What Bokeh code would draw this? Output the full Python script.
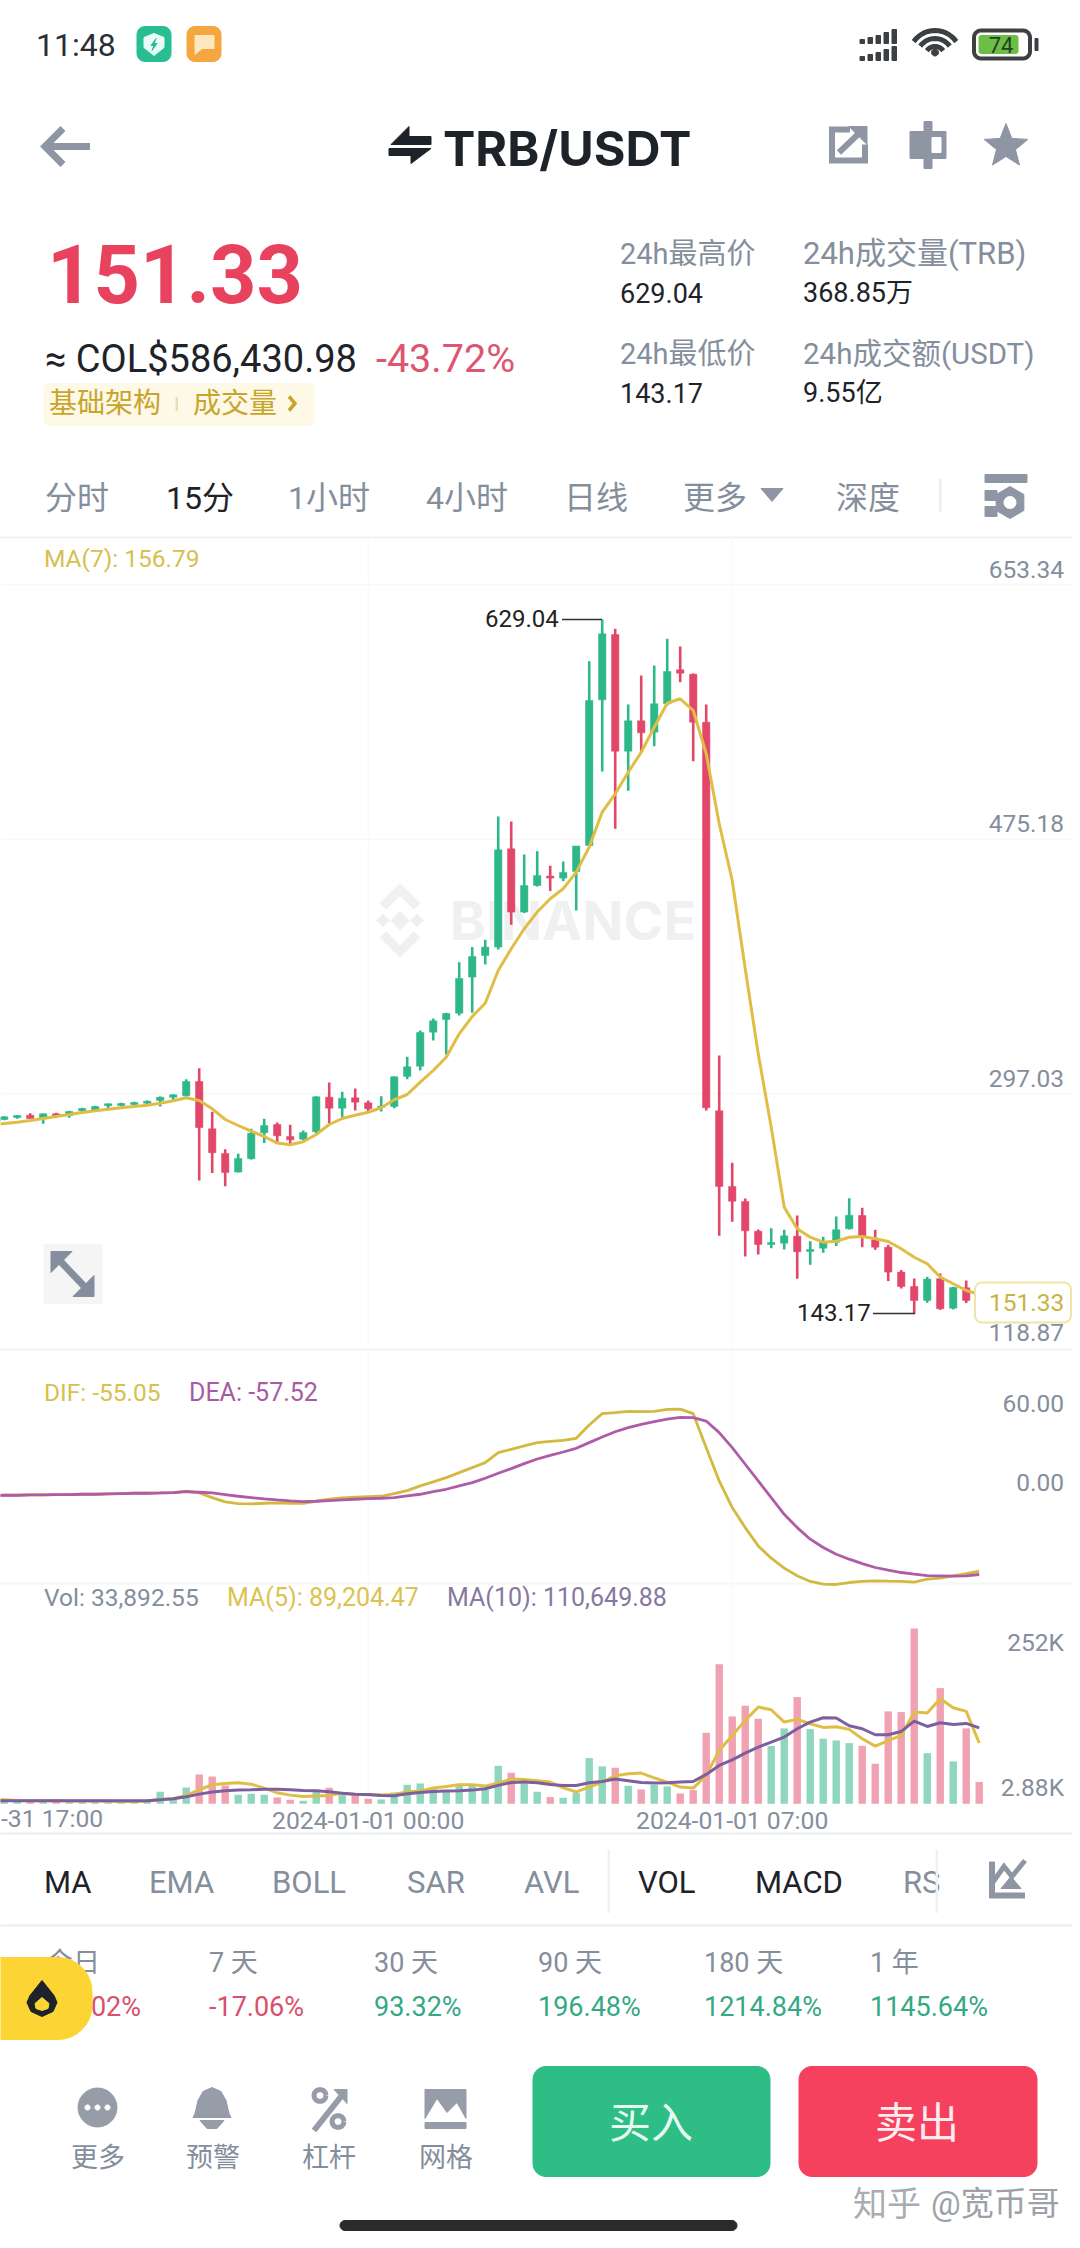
import math
from bokeh.plotting import figure
from bokeh.models import Range1d, LinearAxis, FixedTicker, NumeralTickFormatter, Grid, ColumnDataSource
from bokeh.core.properties import value
from bokeh.embed import file_html
from bokeh.resources import INLINE

candle_index = list(range(-1, 76))
opens = [278.0,279.1,280.5,282.1,280.0,283.1,281.9,285.2,285.4,288.7,288.9,289.6,290.5,292.4,294.7,295.7,305.7,272.6,255.3,242.3,251.6,
         269.8,275.6,267.2,265.3,270.5,294.7,287.0,294.3,290.8,287.7,288.2,309.2,316.4,340.2,349.1,353.5,378.8,393.9,399.8,468.6,
         424.3,442.9,449.5,448.1,452.7,470.9,572.9,618.6,536.9,558.2,550.2,570.1,593.9,590.8,557.2,285.2,232.2,221.7,200.9,191.6,
         192.5,197.4,186.7,189.0,193.2,202.6,211.9,194.9,189.7,172.3,162.2,152.4,167.6,147.0,161.3,152.4]
highs = [279.5,281.4,282.1,283.5,283.3,283.8,285.2,287.3,288.7,290.3,290.8,291.5,292.4,295.2,296.8,307.3,315.0,284.5,258.3,255.1,272.6,
         279.6,277.0,275.4,271.4,295.4,305.0,298.5,300.8,292.4,295.4,309.4,323.0,341.4,349.8,353.8,389.2,399.8,404.9,491.2,487.7,
         464.6,467.0,456.7,459.7,470.5,599.9,629.04,622.6,569.6,589.9,596.9,615.6,610.2,591.3,569.6,323.9,248.8,223.8,202.1,203.0,
         201.9,211.9,193.9,197.0,211.2,224.0,217.3,201.9,191.4,173.7,167.8,169.0,171.3,162.0,166.4,153.5]
lows = [277.5,278.6,279.6,279.8,276.1,281.0,280.3,283.8,285.0,285.9,288.4,289.1,288.9,288.2,292.2,295.2,236.4,241.6,232.4,242.0,251.1,
        262.6,262.8,261.6,264.6,268.8,276.5,280.5,285.4,284.5,284.7,287.0,307.3,313.4,334.4,324.6,351.9,353.8,387.6,398.1,415.4,
        423.6,442.2,439.0,445.9,425.4,470.5,522.7,482.6,509.2,536.3,540.4,568.9,585.2,529.9,285.4,197.7,207.5,183.2,184.6,189.0,
        188.1,167.6,177.4,185.8,190.5,202.1,189.7,187.9,166.0,160.8,143.17,150.8,145.9,146.1,150.6,150.5]
closes = [279.0,281.0,281.9,279.8,283.1,281.2,284.7,286.8,288.2,290.1,290.3,291.0,291.9,294.7,296.4,305.7,273.5,255.8,242.0,251.8,269.5,
          274.9,267.7,264.9,270.0,295.0,287.0,294.0,291.2,286.6,288.4,309.0,316.0,340.0,348.2,353.3,377.8,393.2,399.8,467.9,424.3,
          442.9,449.9,448.1,452.0,470.5,572.4,619.1,536.9,558.2,549.8,570.1,592.7,591.5,557.2,287.3,232.2,221.9,201.2,191.6,193.0,
          197.7,186.5,188.1,193.2,201.9,212.1,196.8,189.7,172.3,162.2,152.4,167.4,146.6,161.5,152.4,151.33]
ma7 = [275.2,276.3,277.2,278.4,279.8,281.2,282.6,284.0,285.2,286.3,287.3,288.2,289.1,290.5,292.2,294.3,292.4,286.6,279.1,274.9,270.9,
       267.2,262.6,261.4,263.5,268.6,275.6,279.8,282.1,284.2,287.3,292.9,296.6,305.2,313.4,322.7,339.1,351.2,360.5,383.4,398.6,
       412.6,424.3,433.6,440.6,452.3,469.8,494.3,507.1,522.2,536.2,553.7,570.5,573.6,565.4,535.1,486.1,446.4,384.6,325.1,273.7,
       217.7,202.6,196.7,193.2,193.9,196.7,197.2,195.6,193.7,188.6,182.7,178.1,168.8,164.1,159.4,156.79]
dif = [2.6,2.65,2.65,2.9,2.9,3.16,3.16,3.41,3.41,3.67,3.92,4.17,4.17,4.42,4.68,5.69,4.42,0.88,-2.4,-3.67,-3.92,
       -3.41,-3.16,-3.41,-3.41,-1.9,-0.38,0.63,1.14,1.64,1.9,3.92,6.19,9.73,12.77,16.05,19.84,23.64,27.43,35.01,37.54,
       40.07,42.6,43.6,44.4,45.9,56.0,64.6,65.35,66.4,66.1,66.4,67.9,68.1,64.6,38.8,13.5,-6.7,-21.9,-35.8,-45.1,
       -52.7,-58.5,-62.8,-64.8,-65.1,-63.6,-62.8,-62.3,-62.6,-62.8,-63.3,-61.1,-60.3,-58.5,-56.8,-55.05]
dea = [2.6,2.65,2.65,2.9,2.9,3.16,3.16,3.41,3.41,3.67,3.92,4.17,4.17,4.42,4.68,5.43,4.93,4.42,3.16,1.9,0.88,
       -0.13,-0.89,-1.64,-2.15,-1.9,-1.39,-0.89,-0.38,0.13,0.38,0.88,2.15,3.41,5.43,7.2,9.73,12.26,15.55,19.34,22.88,
       26.67,30.2,33.0,35.5,38.3,42.6,46.9,50.9,54.0,56.5,58.5,60.5,61.8,61.6,59.0,50.2,38.8,26.2,13.5,0.88,
       -11.8,-21.9,-30.7,-37.0,-42.1,-45.9,-49.2,-52.2,-54.2,-56.0,-57.3,-58.3,-58.5,-58.8,-58.5,-57.52]
volume_k = [7.2,7.2,7.2,7.6,7.6,6.7,7.2,6.7,6.7,6.7,6.7,6.7,7.2,19.9,9.0,26.1,44.6,41.7,29.0,15.7,17.1,
            15.7,11.9,8.6,7.2,19.5,25.6,15.2,15.7,10.0,9.0,19.0,29.9,31.8,23.7,19.5,31.3,30.4,22.8,56.9,47.0,
            31.3,19.9,12.4,11.4,18.5,67.8,56.0,54.1,28.5,23.3,29.9,27.5,17.6,22.3,103.8,201.0,127.0,142.2,123.7,84.9,
            110.0,154.5,109.0,95.3,92.9,89.1,85.3,59.8,134.2,133.2,252.0,74.9,167.3,63.1,110.0,33.89]
vol_ma5 = [9.0,8.6,7.6,7.1,7.1,7.6,6.7,6.7,6.7,6.7,6.2,6.2,6.7,9.0,10.0,14.7,22.8,29.9,31.8,32.7,30.8,
           25.2,18.5,15.2,13.3,13.8,14.7,18.0,16.2,15.7,15.2,16.2,19.9,20.9,25.2,27.5,29.9,29.9,28.0,32.3,38.0,
           37.5,35.6,33.7,25.6,19.9,26.6,33.7,42.7,45.5,46.5,39.8,33.7,26.6,25.2,43.2,78.7,100.0,121.4,140.3,136.5,
           119.0,122.8,116.6,111.4,112.3,108.6,95.3,84.9,92.5,100.0,133.2,131.8,152.2,139.4,134.2,89.2]
vol_ma10 = [7.1,7.1,7.1,7.1,7.1,7.1,7.1,7.1,7.1,7.1,7.1,7.1,7.1,8.6,10.0,12.8,16.6,19.5,21.4,22.3,22.8,
            23.7,23.7,22.8,21.8,21.4,19.9,18.0,16.6,16.2,14.7,14.3,17.1,19.0,20.4,20.9,21.4,22.3,24.2,29.0,33.2,
            33.7,32.7,30.4,29.0,29.0,32.7,34.6,38.0,35.6,33.2,32.3,32.7,33.7,34.6,44.6,57.4,65.4,74.9,83.4,90.6,
            97.7,109.5,119.0,125.1,124.7,113.8,109.5,101.0,101.0,105.7,120.4,112.8,118.0,115.7,117.1,110.65]
price_ticks = [118.87, 297.03, 475.18, 653.34]
macd_ticks = [0.0, 60.0]
date_ticks = {28: "2024-01-01 00:00", 56: "2024-01-01 07:00"}
first_date_label = "-31 17:00"
vol_low_tick, vol_high_tick = 2.88, 252.0

LAT = "Roboto, 'Noto Sans CJK SC'"
GRAY, DARK = "#848E9C", "#1E2329"
GREEN, RED = "#2EB88A", "#E2476A"
PGREEN, PRED = "#8FD6BE", "#F0A2B3"
YEL, PUR = "#DDBE42", "#AE5CA8"
ICON = "#8E96A3"

p = figure(width=1072, height=2240, x_range=Range1d(-0.285, 82.175), y_range=Range1d(2240, 0),
           x_axis_type=None, y_axis_type=None, toolbar_location=None, output_backend="svg",
           min_border=0, outline_line_color=None, background_fill_color="white")
p.grid.visible = False
p.extra_x_ranges["ux"] = Range1d(1.5, 1073.5)
p.extra_y_ranges["uy"] = Range1d(2240, 0)
p.extra_y_ranges["price"] = Range1d(-505.6, 1062.4)
p.extra_y_ranges["price_lbl"] = Range1d(-516.45, 1051.55)
p.extra_y_ranges["macd"] = Range1d(-563.2, 1137.6)
p.extra_y_ranges["macd_lbl"] = Range1d(-575.8, 1125.1)
p.extra_y_ranges["vol"] = Range1d(-617.7, 2565.4)
p.extra_y_ranges["vol_lo"] = Range1d(-640.4, 2542.6)
p.extra_y_ranges["vol_hi"] = Range1d(-597.8, 2585.3)
U = dict(x_range_name="ux", y_range_name="uy")


def T(x, y, s, size, color, align="left", bold=False, font=LAT):
    p.text(x=[x], y=[y], text=[s], text_font=value(font), text_font_size=f"{size}px", text_color=color,
           text_align=align, text_baseline="middle", text_font_style="bold" if bold else "normal", **U)


def rrect(x0, y0, x1, y1, r):
    xs, ys = [], []
    for cx, cy, a0 in [(x1 - r, y0 + r, -90), (x1 - r, y1 - r, 0), (x0 + r, y1 - r, 90), (x0 + r, y0 + r, 180)]:
        for k in range(9):
            a = math.radians(a0 + k * 90 / 8)
            xs.append(cx + r * math.cos(a)); ys.append(cy + r * math.sin(a))
    return xs, ys


def fill(xs, ys, color, line=None, lw=1):
    p.patch(xs, ys, fill_color=color, line_color=line or color, line_width=lw, **U)


def box(x0, y0, x1, y1, color, r=0, line=None, lw=1):
    if r:
        fill(*rrect(x0, y0, x1, y1, r), color, line, lw)
    else:
        p.quad(left=[x0], right=[x1], top=[y0], bottom=[y1], fill_color=color, line_color=line or color, line_width=lw, **U)


def L(xs, ys, color, w, cap="butt"):
    p.line(xs, ys, line_color=color, line_width=w, line_cap=cap, line_join="miter", **U)


def circle(cx, cy, r, color):
    a = [math.radians(k * 12) for k in range(30)]
    fill([cx + r * math.cos(t) for t in a], [cy + r * math.sin(t) for t in a], color)


def arc(cx, cy, r, a0, a1, color, w):
    n = 14
    ang = [math.radians(a0 + (a1 - a0) * k / n) for k in range(n + 1)]
    L([cx + r * math.cos(t) for t in ang], [cy + r * math.sin(t) for t in ang], color, w)


# ---------- status bar ----------
T(37, 44, "11:48", 32, "#2B2F36")
box(138, 26, 172, 61, "#27BE94", r=8)
fill([155, 165, 165, 155, 145, 145], [33, 37, 47, 55, 47, 37], "#E8FBF4")
fill([157, 152, 155, 153, 158, 155], [38, 45, 45, 50, 43, 43], "#27BE94")
box(188, 26, 222, 61, "#F5A63E", r=8)
fill([196, 215, 215, 203, 196], [35, 35, 48, 48, 54], "#FDE7BE")
for k, h in enumerate([4, 6, 8, 11, 14]):
    bx = 861 + k * 8
    box(bx, 43 - h, bx + 4.5, 43, "#3C4043")
    box(bx, 60 - h, bx + 4.5, 60, "#3C4043")
for r_, w_ in ((26, 5), (18, 5), (10, 5)):
    arc(936, 56, r_, 215, 325, "#3C4043", w_)
circle(936, 52, 3.5, "#3C4043")
box(975, 30, 1031, 58, "white", r=7, line="#3C4043", lw=4)
box(980, 35, 1019, 53, "#6DBE45", r=2)
T(1002, 44, "74", 22, "#23402A", "center")
box(1036, 38, 1039, 50, "#3C4043")

# ---------- title row ----------
L([91, 47], [146, 146], ICON, 7)
L([64, 46, 64], [128, 146, 164], ICON, 7)
fill([392, 410, 410, 432, 432], [144, 126, 136, 136, 144], DARK)
fill([390, 432, 412, 412, 390], [148, 148, 163, 155, 155], DARK)
T(444, 148, "TRB/USDT", 48.5, DARK, bold=True, font="Inter")
L([851, 833, 833, 866, 866], [129, 129, 160, 160, 144], ICON, 6)
L([840, 863], [152, 130], ICON, 6)
fill([850, 868, 868], [126, 126, 144], ICON)
box(911, 131, 947, 158, ICON)
box(925, 121, 933, 168, ICON)
box(933, 137, 942, 152, "white")
star = [(1007 + (23 if k % 2 == 0 else 10) * math.cos(math.radians(-90 + 36 * k)),
         146 + (23 if k % 2 == 0 else 10) * math.sin(math.radians(-90 + 36 * k))) for k in range(10)]
fill([s[0] for s in star], [s[1] for s in star], ICON)

# ---------- price summary ----------
T(48, 273, "151.33", 81, "#E8425F", bold=True)
T(46, 358, "≈ COL$586,430.98", 38, DARK)
T(377, 358, "-43.72%", 39.5, "#DD5570")
box(45, 383, 315, 425, "#FEF8E7", r=5)
T(50, 403, "基础架构", 28, "#C7A52B")
box(177, 397, 178.5, 410, "#E8DFB5")
T(194, 403, "成交量", 28, "#C7A52B")
L([290, 296, 290], [396, 403, 410], "#C7A52B", 3.5)
T(621, 253, "24h最高价", 29, GRAY)
T(621, 292, "629.04", 27, DARK)
T(621, 353, "24h最低价", 29, GRAY)
T(621, 392, "143.17", 27, DARK)
T(804, 253, "24h成交量(TRB)", 31, GRAY)
T(804, 292, "368.85万", 27, DARK)
T(804, 353, "24h成交额(USDT)", 29.5, GRAY)
T(804, 392, "9.55亿", 27, DARK)

# ---------- interval tabs ----------
for x0, s, col in [(46, "分时", GRAY), (167, "15分", DARK), (289, "1小时", GRAY), (427, "4小时", GRAY),
                   (565, "日线", GRAY), (684, "更多", GRAY), (837, "深度", GRAY)]:
    T(x0, 497, s, 32, col)
fill([762, 784, 773], [488, 488, 501], ICON)
box(940.5, 479, 942, 511, "#ECEDEF")
box(986, 474, 1028, 482, ICON)
box(986, 490, 998, 500, ICON)
box(986, 506, 998, 516, ICON)
hexa = [(1011 + 16 * math.cos(math.radians(30 + 60 * k)), 502 + 16 * math.sin(math.radians(30 + 60 * k))) for k in range(6)]
fill([h[0] for h in hexa], [h[1] for h in hexa], ICON)
circle(1011, 502, 6, "white")

# ---------- panel rules ----------
for yy, col, w_ in [(537, "#F1F2F3", 2), (1349, "#F1F2F3", 2), (1583, "#F6F6F7", 2), (1833, "#ECEDEF", 2), (1925, "#ECEDEF", 2)]:
    L([0, 1080], [yy, yy], col, w_)

# ---------- watermark ----------
WM = "#EEF0F2"
for cx, cy, r_ in [(401, 920, 9), (384, 920, 6.5), (418, 920, 6.5)]:
    fill([cx, cx + r_, cx, cx - r_], [cy - r_, cy, cy + r_, cy], WM)
L([384, 401, 418], [906, 889, 906], WM, 9)
L([384, 401, 418], [934, 951, 934], WM, 9)
T(451, 920, "BINANCE", 54, WM, bold=True, font="Inter")

# ---------- grid ----------
p.add_layout(Grid(dimension=1, ticker=FixedTicker(ticks=price_ticks[1:]), y_range_name="price",
                  grid_line_color="#F7F8F8", grid_line_width=1.5))
date_x = list(date_ticks.keys())
p.segment(x0=date_x, x1=date_x, y0=[537] * 2, y1=[1833] * 2, line_color="#F8F9F9", line_width=1.5, y_range_name="uy")

# ---------- data marks ----------
up = [c >= o for o, c in zip(opens, closes)]
cds = ColumnDataSource(dict(
    x=candle_index, o=opens, h=highs, l=lows, c=closes,
    top=[max(o, c) for o, c in zip(opens, closes)], bot=[min(o, c) for o, c in zip(opens, closes)],
    color=[GREEN if u else RED for u in up], vcolor=[PGREEN if u else PRED for u in up],
    vol=volume_k, vbase=[vol_low_tick] * len(candle_index)))
p.vbar(x="x", width=0.57, top="vol", bottom="vbase", fill_color="vcolor", line_color=None, source=cds, y_range_name="vol")
p.line(candle_index, vol_ma5, line_color="#E0BE45", line_width=3, y_range_name="vol")
p.line(candle_index, vol_ma10, line_color="#7D5F9F", line_width=3, y_range_name="vol")
p.line(candle_index, dif, line_color="#D3B93F", line_width=2.8, y_range_name="macd")
p.line(candle_index, dea, line_color=PUR, line_width=2.8, y_range_name="macd")
p.segment(x0="x", x1="x", y0="l", y1="h", line_color="color", line_width=2.6, source=cds, y_range_name="price")
p.vbar(x="x", width=0.57, top="top", bottom="bot", fill_color="color", line_color="color", line_width=0.5, source=cds, y_range_name="price")
p.line(candle_index, ma7, line_color="#E0BE45", line_width=3, y_range_name="price")

# ---------- real axes, placed inside the frame ----------
def yaxis(rng, ticks, formatter=None, overrides=None):
    ax = LinearAxis(y_range_name=rng, x_range_name="ux", fixed_location=1065, ticker=FixedTicker(ticks=ticks),
                    major_label_standoff=0, major_tick_in=0, major_tick_out=0, axis_line_color=None,
                    major_tick_line_color=None, minor_tick_line_color=None,
                    major_label_text_font_size="24.5px", major_label_text_color=GRAY, major_label_text_font="Roboto")
    if formatter:
        ax.formatter = formatter
    if overrides:
        ax.major_label_overrides = overrides
    p.add_layout(ax, "left")


yaxis("price_lbl", price_ticks, NumeralTickFormatter(format="0.00"))
yaxis("macd_lbl", macd_ticks, NumeralTickFormatter(format="0.00"))
yaxis("vol_lo", [vol_low_tick], overrides={vol_low_tick: "2.88K"})
yaxis("vol_hi", [vol_high_tick], overrides={vol_high_tick: "252K"})
xax = LinearAxis(y_range_name="uy", fixed_location=1805, ticker=FixedTicker(ticks=date_x),
                 major_label_overrides=date_ticks, major_label_standoff=0, major_tick_in=0, major_tick_out=0,
                 axis_line_color=None, major_tick_line_color=None, minor_tick_line_color=None,
                 major_label_text_font_size="24.7px", major_label_text_color=GRAY, major_label_text_font="Roboto")
p.add_layout(xax, "below")
T(2, 1818, first_date_label, 24.7, GRAY, font="Roboto")

# ---------- chart texts ----------
T(45, 558, "MA(7): 156.79", 24.5, "#D6C04F")
T(45, 1392, "DIF: -55.05", 24.5, "#D6C04F")
T(190, 1392, "DEA: -57.52", 25, "#A85BA2")
T(45, 1597, "Vol: 33,892.55", 24.5, GRAY)
T(228, 1597, "MA(5): 89,204.47", 25, "#DCC24E")
T(448, 1597, "MA(10): 110,649.88", 25, "#86789F")
T(486, 618, "629.04", 24, "#222222")
L([563, 603], [619, 619], "#333333", 1.6)
T(798, 1312, "143.17", 24, "#222222")
L([874, 916], [1313, 1313], "#333333", 1.6)
box(976, 1282, 1072, 1322, "white", r=7, line="#EFE5A8", lw=2)
T(990, 1302, "151.33", 24.5, "#C9B43F")
box(45, 1244, 103, 1303, "#F5F5F6")
L([54, 92], [1253, 1293], GRAY, 7)
fill([52, 73, 52], [1251, 1251, 1272], GRAY)
fill([95, 95, 74], [1296, 1275, 1296], GRAY)

# ---------- indicator tabs ----------
for x0, s, col in [(45, "MA", DARK), (150, "EMA", GRAY), (273, "BOLL", GRAY), (408, "SAR", GRAY), (525, "AVL", GRAY),
                   (639, "VOL", DARK), (756, "MACD", DARK), (904, "RS", GRAY)]:
    T(x0, 1882, s, 31, col)
box(609, 1850, 610.5, 1912, "#EFF0F1")
box(937, 1850, 938.5, 1912, "#EFF0F1")
L([993, 993, 1026], [1861, 1895, 1895], ICON, 6)
L([993, 1005, 1013, 1026], [1883, 1866, 1876, 1860], ICON, 5)
fill([1002, 1022, 1012], [1888, 1888, 1876], ICON)

# ---------- change row ----------
for x0, a, b, col in [(47, "今日", "-43.02%", "#D9506C"), (210, "7 天", "-17.06%", "#D9506C"), (375, "30 天", "93.32%", "#35A884"),
                      (539, "90 天", "196.48%", "#35A884"), (705, "180 天", "1214.84%", "#35A884"), (871, "1 年", "1145.64%", "#35A884")]:
    T(x0, 1962, a, 27, GRAY)
    T(x0, 2006, b, 27, col)
fill(*rrect(-40, 1957, 93, 2039, 34), "#FCD535")
fill([43, 55, 58, 54, 43, 32, 28, 31], [1980, 1995, 2002, 2011, 2016, 2011, 2002, 1995], "#1E2329")
fill([43, 50, 49, 43, 37, 36], [1997, 2003, 2008, 2010, 2008, 2003], "#FCD535")

# ---------- bottom bar ----------
BI = "#969DA9"
circle(98.5, 2107, 19.5, BI)
for dx in (-10, 0, 10):
    circle(98.5 + dx, 2107, 2.6, "white")
fill([213, 222, 227, 230, 232, 194, 196, 199, 204], [2087, 2091, 2100, 2113, 2117, 2117, 2113, 2100, 2091], BI)
fill([201, 225, 218, 208], [2120, 2120, 2128, 2128], BI)
arc(321, 2095, 6, 0, 360, BI, 5)
arc(339, 2121, 6, 0, 360, BI, 5)
L([315, 346], [2130, 2091], BI, 6)
fill([335, 348, 348], [2089, 2089, 2103], BI)
fill([426, 467, 467, 458, 448, 438, 426], [2089, 2089, 2118, 2102, 2112, 2098, 2118], BI)
box(426, 2122, 467, 2128, BI)
for x0, s in [(72, "更多"), (187, "预警"), (303, "杠杆"), (420, "网格")]:
    T(x0, 2157, s, 27, GRAY)
box(534, 2066, 771, 2176, "#2DBD85", r=13)
box(800, 2066, 1038, 2176, "#F5405E", r=13)
T(652, 2123, "买入", 42, "#E4FAF1", "center")
T(918, 2123, "卖出", 42, "#FFECEF", "center")
T(854, 2203, "知乎", 34, "#A9ADB3")
T(932, 2203, "@宽币哥", 33, "#9DA1A7")
box(341, 2220, 738, 2230, "#2B2B2D", r=5)

open("out.html", "w").write(file_html(p, INLINE))
